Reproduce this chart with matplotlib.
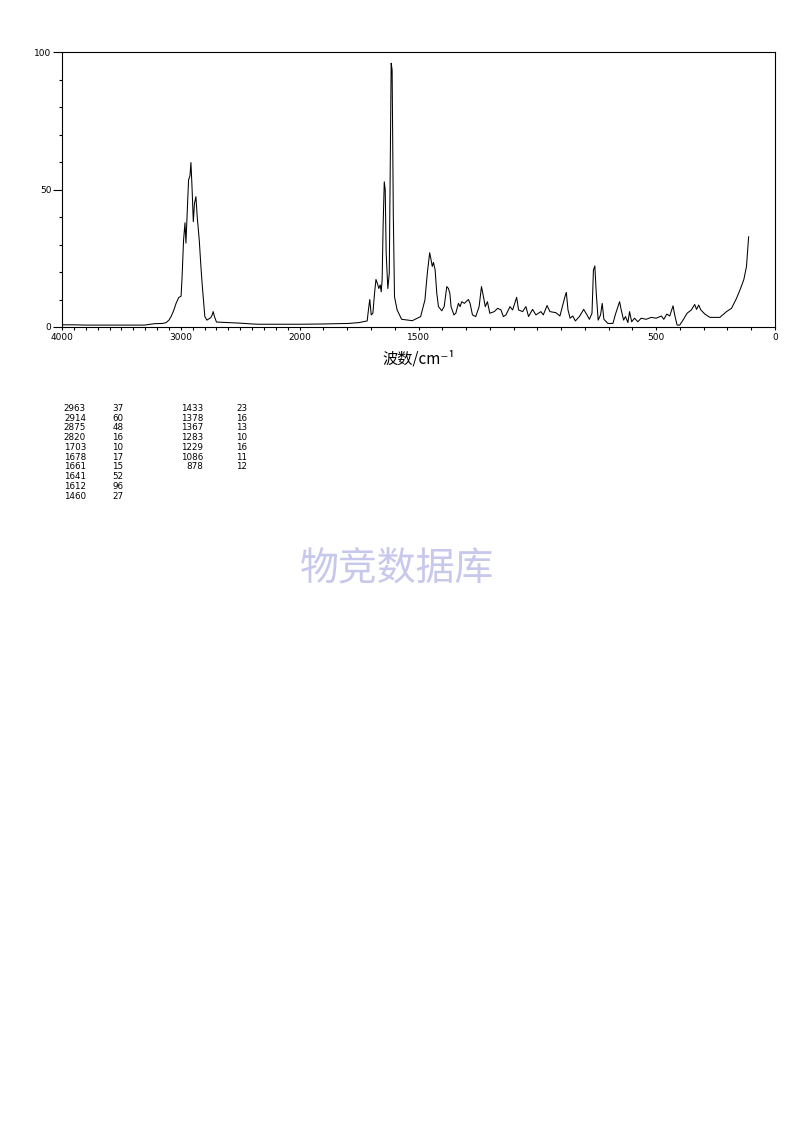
import numpy as np
import matplotlib
matplotlib.use("Agg")
import matplotlib.pyplot as plt

# spectrum (wavenumber, intensity)
wavenumber = [4000, 3900, 3800, 3600, 3400, 3305, 3222, 3152, 3124, 3100, 3082, 3060, 3040, 3018, 2998,
              2990, 2977, 2965, 2957, 2948, 2935, 2923, 2915, 2906, 2895, 2885, 2873, 2862, 2845, 2831,
              2820, 2812, 2798, 2781, 2748, 2735, 2728, 2717, 2700, 2650, 2594, 2500, 2400, 2343, 2200,
              2100, 2000, 1900, 1793, 1751, 1716, 1709, 1705, 1699, 1692, 1685, 1679, 1672, 1667, 1661,
              1657, 1653, 1649, 1644, 1640, 1636, 1629, 1623, 1619, 1615, 1611, 1606, 1601, 1590, 1571,
              1526, 1491, 1473, 1463, 1453, 1447, 1442, 1437, 1430, 1423, 1416, 1402, 1392, 1381, 1374,
              1368, 1363, 1351, 1343, 1332, 1325, 1318, 1307, 1290, 1283, 1273, 1259, 1245, 1235, 1228,
              1219, 1210, 1200, 1181, 1167, 1153, 1143, 1132, 1115, 1104, 1087, 1079, 1062, 1048, 1037,
              1020, 1006, 985, 975, 959, 947, 922, 905, 882, 878, 871, 862, 851, 840, 823,
              805, 791, 781, 770, 764, 758, 752, 744, 734, 727, 720, 703, 682, 671, 654,
              647, 637, 629, 619, 612, 603, 591, 577, 563, 542, 521, 500, 478, 468, 455,
              443, 429, 422, 412, 401, 387, 370, 352, 338, 330, 321, 312, 295, 274, 232,
              204, 183, 162, 145, 131, 120, 116, 111]
intensity = [0.8, 0.8, 0.7, 0.7, 0.7, 0.7, 1.2, 1.3, 1.6, 2.5, 3.8, 6.0, 8.6, 10.7, 11.2,
             17.7, 31.6, 37.9, 30.5, 40, 53.5, 55, 59.8, 51, 38.3, 45, 47.4, 40, 31.6, 22,
             15.3, 11, 3.8, 2.5, 3.4, 4.5, 5.6, 3.8, 1.8, 1.7, 1.6, 1.4, 1.1, 1.0, 1.0,
             1.0, 1.0, 1.1, 1.3, 1.6, 2.2, 7.4, 10, 4.4, 5, 12.2, 17.3, 15.6, 14, 15.3,
             12.8, 17, 36.5, 52.8, 49.8, 26.8, 14, 19.5, 58, 95.9, 93.5, 41, 11, 6.2, 2.8,
             2.3, 3.8, 9.8, 19.5, 27, 24.4, 22, 23.5, 20.7, 12.2, 7.4, 5.9, 7.4, 14.7, 14,
             12.2, 7.4, 4.4, 5, 8.6, 7.4, 9.2, 8.6, 10, 8.6, 4.4, 3.8, 7.4, 14.7, 11.6,
             7.4, 9.2, 5, 5.6, 6.8, 6.2, 3.8, 4.4, 7.4, 6.2, 10.8, 6.2, 5.6, 7.4, 3.8,
             6.4, 4.4, 5.6, 4.4, 7.8, 5.6, 5.2, 4, 11.6, 12.6, 6.2, 3.2, 4, 2.2, 3.8,
             6.4, 4.4, 2.8, 5, 20.7, 22.2, 12.2, 2.5, 4.4, 8.6, 2.8, 1.3, 1.3, 4.7, 9.2,
             6.2, 2.5, 3.8, 1.6, 5.6, 1.9, 3.2, 1.9, 3.2, 2.8, 3.5, 3.2, 4, 2.8, 4.7,
             4, 7.7, 4.4, 0.7, 0.7, 2.5, 5, 6.2, 8.2, 6.4, 8, 6.2, 4.7, 3.5, 3.5,
             5.6, 6.8, 10.4, 14, 17.3, 22, 26.8, 32.8]

# peak table
peaks_left_wn = ["2963", "2914", "2875", "2820", "1703", "1678", "1661", "1641", "1612", "1460"]
peaks_left_int = ["37", "60", "48", "16", "10", "17", "15", "52", "96", "27"]
peaks_right_wn = ["1433", "1378", "1367", "1283", "1229", "1086", "878"]
peaks_right_int = ["23", "16", "13", "10", "16", "11", "12"]

x_major = [4000, 3000, 2000, 1500, 500, 0]
y_major = [0, 50, 100]


# axis is compressed by 2 above 2000 cm-1
def fwd(w):
    w = np.asarray(w, dtype=float)
    return np.where(w >= 2000, 2000 + (w - 2000) / 2, w)


def inv(u):
    u = np.asarray(u, dtype=float)
    return np.where(u >= 2000, 2000 + (u - 2000) * 2, u)


fig = plt.figure(figsize=(7.94, 11.34), dpi=100)
ax = fig.add_axes([62 / 794, 1 - 327 / 1134, 713 / 794, 275 / 1134])
ax.set_xscale("function", functions=(fwd, inv))
ax.plot(wavenumber, intensity, color="black", linewidth=0.75)
ax.set_xlim(4000, 0)
ax.set_ylim(0, 100)

ax.set_xticks(x_major)
ax.set_xticklabels([str(v) for v in x_major])
ax.set_xticks(range(0, 4001, 100), minor=True)
ax.set_yticks(y_major)
ax.set_yticks(range(0, 101, 10), minor=True)
ax.tick_params(axis="x", which="both", direction="out", length=2.5, width=0.8, labelsize=6.5, pad=2)
ax.tick_params(axis="y", which="major", direction="out", length=6.5, width=0.8, labelsize=6.5, pad=1)
ax.tick_params(axis="y", which="minor", direction="out", length=2, width=0.8)
for s in ax.spines.values():
    s.set_linewidth(0.8)

ax.set_xlabel("波数/cm⁻¹", family=["Noto Sans CJK SC", "DejaVu Sans"], fontsize=11, labelpad=6)

# peak listing below the chart
row0 = 408.3
dy = 9.75
for i in range(len(peaks_left_wn)):
    yy = 1 - (row0 + i * dy) / 1134
    fig.text(86 / 794, yy, peaks_left_wn[i], ha="right", va="center", fontsize=6.3)
    fig.text(112.5 / 794, yy, peaks_left_int[i], ha="left", va="center", fontsize=6.3)
for i in range(len(peaks_right_wn)):
    yy = 1 - (row0 + i * dy) / 1134
    fig.text(203 / 794, yy, peaks_right_wn[i], ha="right", va="center", fontsize=6.3)
    fig.text(236.5 / 794, yy, peaks_right_int[i], ha="left", va="center", fontsize=6.3)

fig.text(397 / 794, 1 - 570 / 1134, "物竞数据库", ha="center", va="center",
         family=["Noto Sans CJK SC", "DejaVu Sans"], fontsize=28, color="#c8c8ec")

fig.savefig("out.png", dpi=100)
